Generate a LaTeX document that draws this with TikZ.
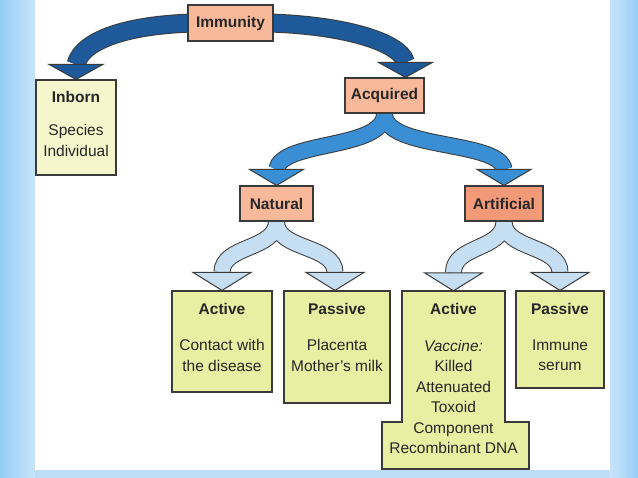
\documentclass[tikz,border=0pt]{standalone}
\usepackage{fontspec}
\setmainfont{Liberation Sans}
\usetikzlibrary{calc}
\definecolor{salmon}{HTML}{F7B999}
\definecolor{salmond}{HTML}{F29A78}
\definecolor{pale}{HTML}{F5F6CC}
\definecolor{ygreen}{HTML}{E9EFA2}
\definecolor{dblue}{HTML}{1E5A9A}
\definecolor{mblue}{HTML}{3A8ED3}
\definecolor{lblue}{HTML}{C6DEF2}
\definecolor{edge}{HTML}{3A3A3A}
\definecolor{sidea}{RGB}{150,205,245}
\definecolor{sideb}{RGB}{200,228,250}
\definecolor{sidec}{RGB}{190,222,248}
\begin{document}
\begin{tikzpicture}[x=1pt,y=-1pt,
  box/.style={draw=edge,line width=1.2pt,inner sep=0pt},
  ttl/.style={font=\fontsize{15.5}{18}\selectfont\bfseries,text=black!85},
  txt/.style={font=\fontsize{15.5}{20.5}\selectfont,align=center,anchor=north,inner sep=0pt,text=black!85},
  outl/.style={line width=#1,draw=edge},
  head/.style={draw=edge,line width=1pt,line join=miter}]
\fill[left color=sidea,right color=sideb] (0,0) rectangle (35,478);
\fill[left color=sideb,right color=sidea] (610,0) rectangle (638,478);
\fill[sidec] (35,470) rectangle (610,478);
\fill[white] (35,0) rectangle (610,470);
\useasboundingbox (0,0) rectangle (638,478);

% nodes (positions)
\node[box,fill=salmon,minimum width=85,minimum height=36] (imm) at (230.5,23) {};
\node[box,fill=pale,minimum width=80,minimum height=95] (inb) at (76,127.5) {};
\node[box,fill=salmon,minimum width=79,minimum height=35] (acq) at (384.5,95.5) {};
\node[box,fill=salmon,minimum width=73,minimum height=35] (nat) at (276.5,203.5) {};
\node[box,fill=salmond,minimum width=78,minimum height=35] (art) at (504,203.5) {};
\node[box,fill=ygreen,minimum width=100,minimum height=101] (act1) at (222,341.5) {};
\node[box,fill=ygreen,minimum width=106,minimum height=112] (pas1) at (337,347) {};
\node[inner sep=0pt,minimum width=103,minimum height=131] (act2) at (453.5,356.5) {};
\filldraw[fill=ygreen,draw=edge,line width=1.2pt] (402,291) -- (505,291) -- (505,422) -- (529,422) -- (529,469) -- (382,469) -- (382,422) -- (402,422) -- cycle;
\node[box,fill=ygreen,minimum width=88,minimum height=97] (pas2) at (560,339.5) {};

% Immunity arrows (dark blue)
\coordinate (lb) at ($(inb.north)+(0,-15)$);
\coordinate (rb) at ($(acq.north)+(21,-15)$);
\coordinate (rt) at ($(acq.north)+(21,0)$);
\draw[outl=19pt] (imm.center) .. controls (130,20) and (82,40) .. (lb);
\draw[outl=19pt] (imm.center) .. controls (330,20) and (400,40) .. (rb);
\draw[line width=17pt,dblue] (imm.center) .. controls (130,20) and (82,40) .. (lb);
\draw[line width=17pt,dblue] (imm.center) .. controls (330,20) and (400,40) .. (rb);
\filldraw[head,fill=dblue] ($(lb)+(-27,0)$) -- ($(lb)+(27,0)$) -- (inb.north) -- cycle;
\filldraw[head,fill=dblue] ($(rb)+(-27,0)$) -- ($(rb)+(27,0)$) -- (rt) -- cycle;
\node[box,fill=salmon,minimum width=85,minimum height=36] at (imm) {};
\node[ttl] (immt) at (imm) {Immunity};

% Acquired arrows (medium blue)
\coordinate (nb) at ($(nat.north)+(0,-16)$);
\coordinate (ab) at ($(art.north)+(0,-16)$);
\draw[outl=17pt] (acq.south) .. controls (384,150) and (282,140) .. (nb);
\draw[outl=17pt] (acq.south) .. controls (384,150) and (500,140) .. (ab);
\draw[line width=15pt,mblue] (acq.south) .. controls (384,150) and (282,140) .. (nb);
\draw[line width=15pt,mblue] (acq.south) .. controls (384,150) and (500,140) .. (ab);
\filldraw[head,fill=mblue] ($(nb)+(-27,0)$) -- ($(nb)+(27,0)$) -- (nat.north) -- cycle;
\filldraw[head,fill=mblue] ($(ab)+(-27,0)$) -- ($(ab)+(27,0)$) -- (art.north) -- cycle;
\node[box,fill=salmon,minimum width=79,minimum height=35] at (acq) {};
\node[ttl] (acqt) at (acq) {Acquired};

% light arrows
\coordinate (a1b) at ($(act1.north)+(0,-18)$);
\coordinate (p1b) at ($(pas1.north)+(-2,-18)$);
\coordinate (p1t) at ($(pas1.north)+(-2,0)$);
\coordinate (a2b) at ($(act2.north)+(0,-18)$);
\coordinate (p2b) at ($(pas2.north)+(0,-18)$);
\foreach \s/\e/\ca/\cb in {nat.south/a1b/{(276,250)}/{(222,245)}, nat.south/p1b/{(276,250)}/{(335,245)}, art.south/a2b/{(504,250)}/{(453,245)}, art.south/p2b/{(504,250)}/{(560,245)}}
  \draw[outl=17pt] (\s) .. controls \ca and \cb .. (\e);
\foreach \s/\e/\ca/\cb in {nat.south/a1b/{(276,250)}/{(222,245)}, nat.south/p1b/{(276,250)}/{(335,245)}, art.south/a2b/{(504,250)}/{(453,245)}, art.south/p2b/{(504,250)}/{(560,245)}}
  \draw[line width=15pt,lblue] (\s) .. controls \ca and \cb .. (\e);
\filldraw[head,fill=lblue] ($(a1b)+(-29,0)$) -- ($(a1b)+(29,0)$) -- (act1.north) -- cycle;
\filldraw[head,fill=lblue] ($(p1b)+(-29,0)$) -- ($(p1b)+(29,0)$) -- (p1t) -- cycle;
\filldraw[head,fill=lblue] ($(a2b)+(-29,0)$) -- ($(a2b)+(29,0)$) -- (act2.north) -- cycle;
\filldraw[head,fill=lblue] ($(p2b)+(-29,0)$) -- ($(p2b)+(29,0)$) -- (pas2.north) -- cycle;
\node[box,fill=salmon,minimum width=73,minimum height=35] at (nat) {};
\node[ttl] (natt) at (nat) {Natural};
\node[box,fill=salmond,minimum width=78,minimum height=35] at (art) {};
\node[ttl] (artt) at (art) {Artificial};

% texts
\node[ttl,anchor=north] (inbt) at ($(inb.north)+(0,8)$) {Inborn};
\node[txt] (inbx) at ($(inb.north)+(0,45)$) {Species\\Individual};
\node[ttl,anchor=north] (act1t) at ($(act1.north)+(0,9)$) {Active};
\node[txt] (act1x) at ($(act1.north)+(0,49)$) {Contact with\\the disease};
\node[ttl,anchor=north] (pas1t) at ($(pas1.north)+(0,9)$) {Passive};
\node[txt] (pas1x) at ($(pas1.north)+(0,49)$) {Placenta\\Mother's milk};
\node[ttl,anchor=north] (act2t) at ($(act2.north)+(0,9)$) {Active};
\node[txt] (act2x) at ($(act2.north)+(0,49)$) {\textit{Vaccine:}\\Killed\\Attenuated\\Toxoid\\Component\\Recombinant DNA};
\node[ttl,anchor=north] (pas2t) at ($(pas2.north)+(0,9)$) {Passive};
\node[txt] (pas2x) at ($(pas2.north)+(0,49)$) {Immune\\serum};
\end{tikzpicture}
\end{document}
